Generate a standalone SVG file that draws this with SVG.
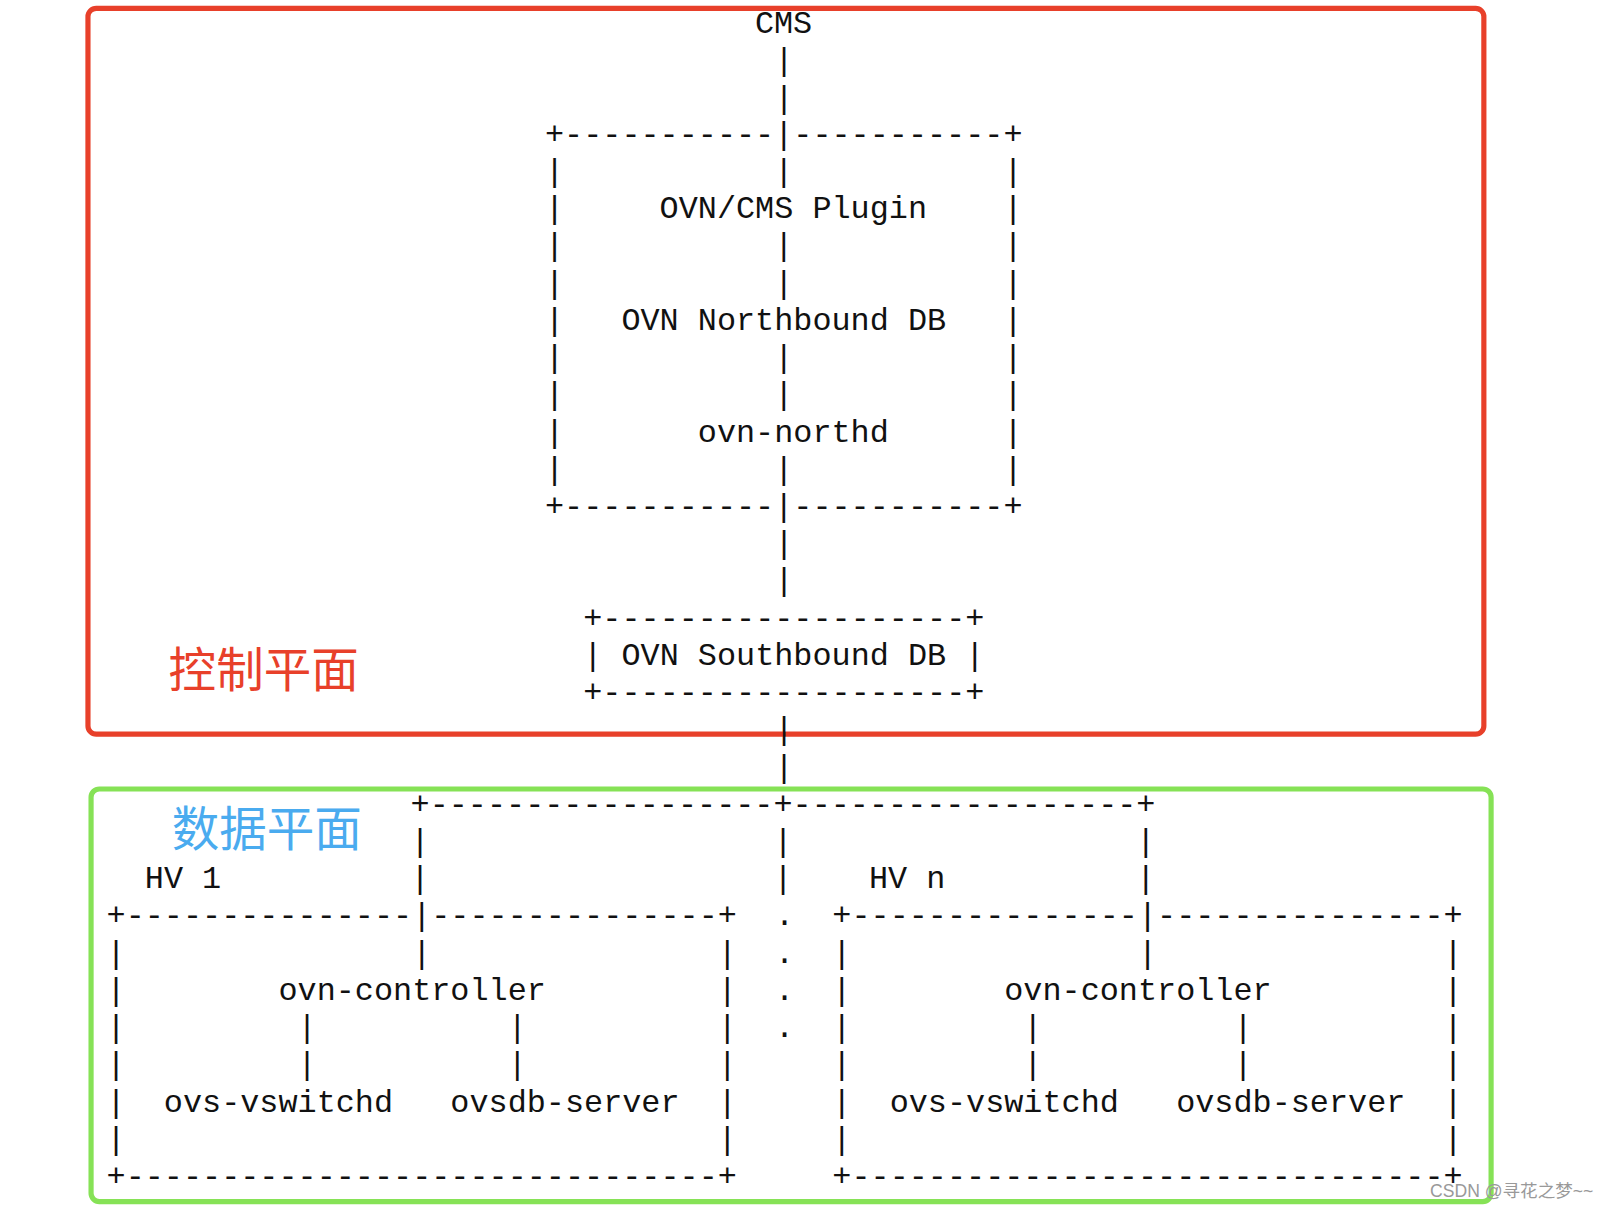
<svg xmlns="http://www.w3.org/2000/svg" width="1614" height="1206" viewBox="0 0 1614 1206">
<style>
.a{font-family:"Liberation Mono","DejaVu Sans Mono",monospace;font-size:30.8px;fill:#111;white-space:pre}
.cn{font-family:"Noto Sans CJK SC",sans-serif;font-size:46px}
</style>
<rect width="1614" height="1206" fill="#fff"/>
<g transform="translate(-2,-2) scale(1.034)">
<g id="control-plane">
<rect x="87" y="10" width="1350" height="702" rx="8" fill="none" stroke="#e8402a" stroke-width="5"/>
<text class="cn" x="165" y="666" fill="#e8402a">控制平面</text>
</g>
<g id="data-plane">
<rect x="90" y="765" width="1354" height="399" rx="8" fill="none" stroke="#86e256" stroke-width="5"/>
<text class="cn" x="168" y="820" fill="#4aabef">数据平面</text>
</g>
<g id="central" xml:space="preserve">
<text class="a" x="732" y="34">CMS</text>
<text class="a" x="751" y="70">|</text>
<text class="a" x="751" y="106">|</text>
<text class="a" x="529" y="141">+-----------|-----------+</text>
<text class="a" x="529" y="177">|           |           |</text>
<text class="a" x="529" y="213">|     OVN/CMS Plugin    |</text>
<text class="a" x="529" y="249">|           |           |</text>
<text class="a" x="529" y="285">|           |           |</text>
<text class="a" x="529" y="321">|   OVN Northbound DB   |</text>
<text class="a" x="529" y="357">|           |           |</text>
<text class="a" x="529" y="393">|           |           |</text>
<text class="a" x="529" y="429">|       ovn-northd      |</text>
<text class="a" x="529" y="465">|           |           |</text>
<text class="a" x="529" y="501">+-----------|-----------+</text>
<text class="a" x="751" y="537">|</text>
<text class="a" x="751" y="573">|</text>
<text class="a" x="566" y="609">+-------------------+</text>
<text class="a" x="566" y="645">| OVN Southbound DB |</text>
<text class="a" x="566" y="681">+-------------------+</text>
<text class="a" x="751" y="717">|</text>
<text class="a" x="751" y="753">|</text>
<text class="a" x="399" y="789">+------------------+------------------+</text>
<text class="a" x="399" y="825">|                  |                  |</text>
</g>
<g id="hypervisors" xml:space="preserve">
<text class="a" x="142" y="861">HV 1</text>
<text class="a" x="399" y="861">|                  |    HV n          |</text>
<text class="a" x="105" y="897">+---------------|---------------+  .  +---------------|---------------+</text>
<text class="a" x="105" y="933">|               |               |  .  |               |               |</text>
<text class="a" x="105" y="969">|        ovn-controller         |  .  |        ovn-controller         |</text>
<text class="a" x="105" y="1005">|         |          |          |  .  |         |          |          |</text>
<text class="a" x="105" y="1041">|         |          |          |     |         |          |          |</text>
<text class="a" x="105" y="1077">|  ovs-vswitchd   ovsdb-server  |     |  ovs-vswitchd   ovsdb-server  |</text>
<text class="a" x="105" y="1113">|                               |     |                               |</text>
<text class="a" x="105" y="1149">+-------------------------------+     +-------------------------------+</text>
</g>
<text x="1385" y="1160" font-family="Liberation Sans,'Noto Sans CJK SC',sans-serif" font-size="17" fill="#999">CSDN @寻花之梦~~</text>
</g>
</svg>
